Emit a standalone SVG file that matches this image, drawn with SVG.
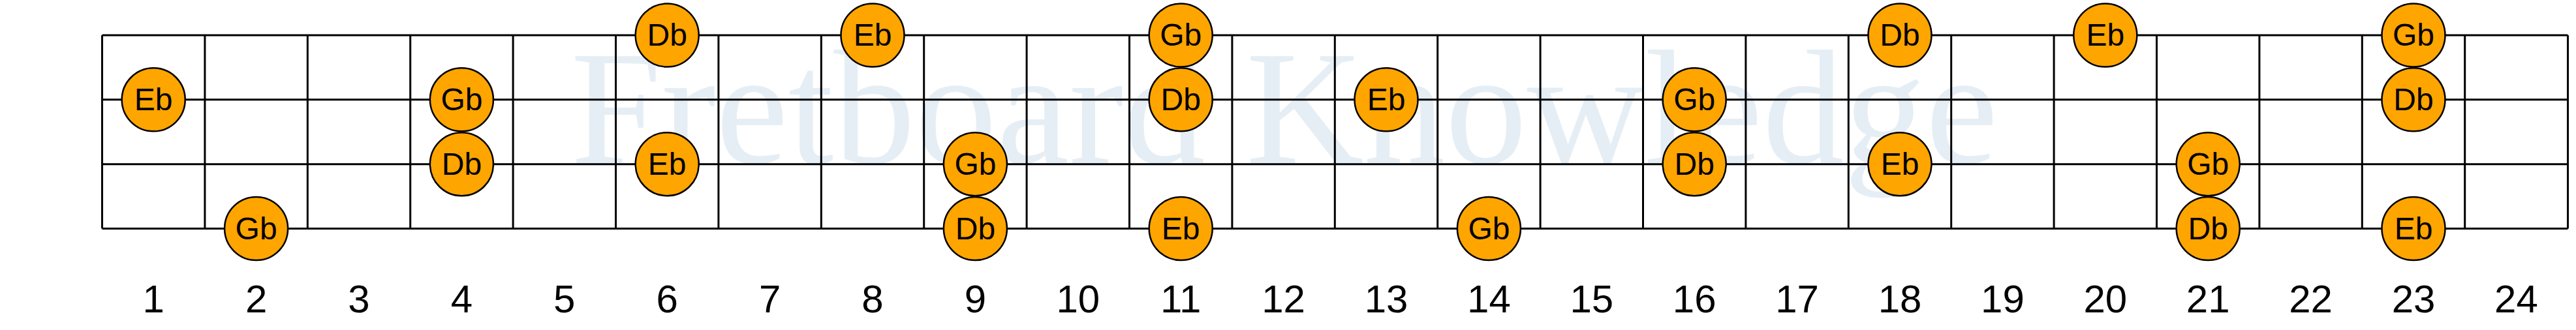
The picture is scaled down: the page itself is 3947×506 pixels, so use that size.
<svg xmlns="http://www.w3.org/2000/svg" width="3947" height="506" viewBox="0 0 3947 506">
<style>
.wm{font-family:"Liberation Serif","Times New Roman",serif;font-size:250px;fill:#E6EEF5;}
.ln{stroke:#000;stroke-width:3;fill:none;}
.dot circle{fill:#FFA500;stroke:#000;stroke-width:2.5;}
.dot text{font-family:"Liberation Sans",Arial,sans-serif;font-size:48px;fill:#000;text-anchor:middle;}
.num{font-family:"Liberation Sans",Arial,sans-serif;font-size:60px;fill:#000;text-anchor:middle;}
</style>
<rect width="3947" height="506" fill="#fff"/>
<text class="wm" x="1968" y="250" text-anchor="middle">Fretboard Knowledge</text>
<g id="grid" class="ln">
<line x1="156.5" y1="54" x2="3934.5" y2="54"/>
<line x1="156.5" y1="152.8" x2="3934.5" y2="152.8"/>
<line x1="156.5" y1="251.7" x2="3934.5" y2="251.7"/>
<line x1="156.5" y1="350.5" x2="3934.5" y2="350.5"/>
<line x1="156.5" y1="54" x2="156.5" y2="350.5"/>
<line x1="313.9" y1="54" x2="313.9" y2="350.5"/>
<line x1="471.3" y1="54" x2="471.3" y2="350.5"/>
<line x1="628.7" y1="54" x2="628.7" y2="350.5"/>
<line x1="786.1" y1="54" x2="786.1" y2="350.5"/>
<line x1="943.5" y1="54" x2="943.5" y2="350.5"/>
<line x1="1100.9" y1="54" x2="1100.9" y2="350.5"/>
<line x1="1258.3" y1="54" x2="1258.3" y2="350.5"/>
<line x1="1415.7" y1="54" x2="1415.7" y2="350.5"/>
<line x1="1573.1" y1="54" x2="1573.1" y2="350.5"/>
<line x1="1730.5" y1="54" x2="1730.5" y2="350.5"/>
<line x1="1887.9" y1="54" x2="1887.9" y2="350.5"/>
<line x1="2045.3" y1="54" x2="2045.3" y2="350.5"/>
<line x1="2202.7" y1="54" x2="2202.7" y2="350.5"/>
<line x1="2360.1" y1="54" x2="2360.1" y2="350.5"/>
<line x1="2517.5" y1="54" x2="2517.5" y2="350.5"/>
<line x1="2674.9" y1="54" x2="2674.9" y2="350.5"/>
<line x1="2832.3" y1="54" x2="2832.3" y2="350.5"/>
<line x1="2989.7" y1="54" x2="2989.7" y2="350.5"/>
<line x1="3147.1" y1="54" x2="3147.1" y2="350.5"/>
<line x1="3304.5" y1="54" x2="3304.5" y2="350.5"/>
<line x1="3461.9" y1="54" x2="3461.9" y2="350.5"/>
<line x1="3619.3" y1="54" x2="3619.3" y2="350.5"/>
<line x1="3776.7" y1="54" x2="3776.7" y2="350.5"/>
<line x1="3934.5" y1="54" x2="3934.5" y2="350.5"/>
</g>
<g id="connectors"></g>
<g id="numbers">
<text class="num" x="235.2" y="479">1</text>
<text class="num" x="392.6" y="479">2</text>
<text class="num" x="550" y="479">3</text>
<text class="num" x="707.4" y="479">4</text>
<text class="num" x="864.8" y="479">5</text>
<text class="num" x="1022.2" y="479">6</text>
<text class="num" x="1179.6" y="479">7</text>
<text class="num" x="1337" y="479">8</text>
<text class="num" x="1494.4" y="479">9</text>
<text class="num" x="1651.8" y="479">10</text>
<text class="num" x="1809.2" y="479">11</text>
<text class="num" x="1966.6" y="479">12</text>
<text class="num" x="2124" y="479">13</text>
<text class="num" x="2281.4" y="479">14</text>
<text class="num" x="2438.8" y="479">15</text>
<text class="num" x="2596.2" y="479">16</text>
<text class="num" x="2753.6" y="479">17</text>
<text class="num" x="2911" y="479">18</text>
<text class="num" x="3068.4" y="479">19</text>
<text class="num" x="3225.8" y="479">20</text>
<text class="num" x="3383.2" y="479">21</text>
<text class="num" x="3540.6" y="479">22</text>
<text class="num" x="3698" y="479">23</text>
<text class="num" x="3855.4" y="479">24</text>
</g>
<g id="n1" class="dot"><circle cx="235.2" cy="152.8" r="48.5"/><text x="235.2" y="169">Eb</text></g>
<g id="n2" class="dot"><circle cx="392.6" cy="350.5" r="48.5"/><text x="392.6" y="367">Gb</text></g>
<g id="n3" class="dot"><circle cx="707.4" cy="152.8" r="48.5"/><text x="707.4" y="169">Gb</text></g>
<g id="n4" class="dot"><circle cx="707.4" cy="251.7" r="48.5"/><text x="707.4" y="268">Db</text></g>
<g id="n5" class="dot"><circle cx="1022.2" cy="54" r="48.5"/><text x="1022.2" y="70">Db</text></g>
<g id="n6" class="dot"><circle cx="1022.2" cy="251.7" r="48.5"/><text x="1022.2" y="268">Eb</text></g>
<g id="n7" class="dot"><circle cx="1337" cy="54" r="48.5"/><text x="1337" y="70">Eb</text></g>
<g id="n8" class="dot"><circle cx="1494.4" cy="251.7" r="48.5"/><text x="1494.4" y="268">Gb</text></g>
<g id="n9" class="dot"><circle cx="1494.4" cy="350.5" r="48.5"/><text x="1494.4" y="367">Db</text></g>
<g id="n10" class="dot"><circle cx="1809.2" cy="54" r="48.5"/><text x="1809.2" y="70">Gb</text></g>
<g id="n11" class="dot"><circle cx="1809.2" cy="152.8" r="48.5"/><text x="1809.2" y="169">Db</text></g>
<g id="n12" class="dot"><circle cx="1809.2" cy="350.5" r="48.5"/><text x="1809.2" y="367">Eb</text></g>
<g id="n13" class="dot"><circle cx="2124" cy="152.8" r="48.5"/><text x="2124" y="169">Eb</text></g>
<g id="n14" class="dot"><circle cx="2281.4" cy="350.5" r="48.5"/><text x="2281.4" y="367">Gb</text></g>
<g id="n15" class="dot"><circle cx="2596.2" cy="152.8" r="48.5"/><text x="2596.2" y="169">Gb</text></g>
<g id="n16" class="dot"><circle cx="2596.2" cy="251.7" r="48.5"/><text x="2596.2" y="268">Db</text></g>
<g id="n17" class="dot"><circle cx="2911" cy="54" r="48.5"/><text x="2911" y="70">Db</text></g>
<g id="n18" class="dot"><circle cx="2911" cy="251.7" r="48.5"/><text x="2911" y="268">Eb</text></g>
<g id="n19" class="dot"><circle cx="3225.8" cy="54" r="48.5"/><text x="3225.8" y="70">Eb</text></g>
<g id="n20" class="dot"><circle cx="3383.2" cy="251.7" r="48.5"/><text x="3383.2" y="268">Gb</text></g>
<g id="n21" class="dot"><circle cx="3383.2" cy="350.5" r="48.5"/><text x="3383.2" y="367">Db</text></g>
<g id="n22" class="dot"><circle cx="3698" cy="54" r="48.5"/><text x="3698" y="70">Gb</text></g>
<g id="n23" class="dot"><circle cx="3698" cy="152.8" r="48.5"/><text x="3698" y="169">Db</text></g>
<g id="n24" class="dot"><circle cx="3698" cy="350.5" r="48.5"/><text x="3698" y="367">Eb</text></g>
</svg>
